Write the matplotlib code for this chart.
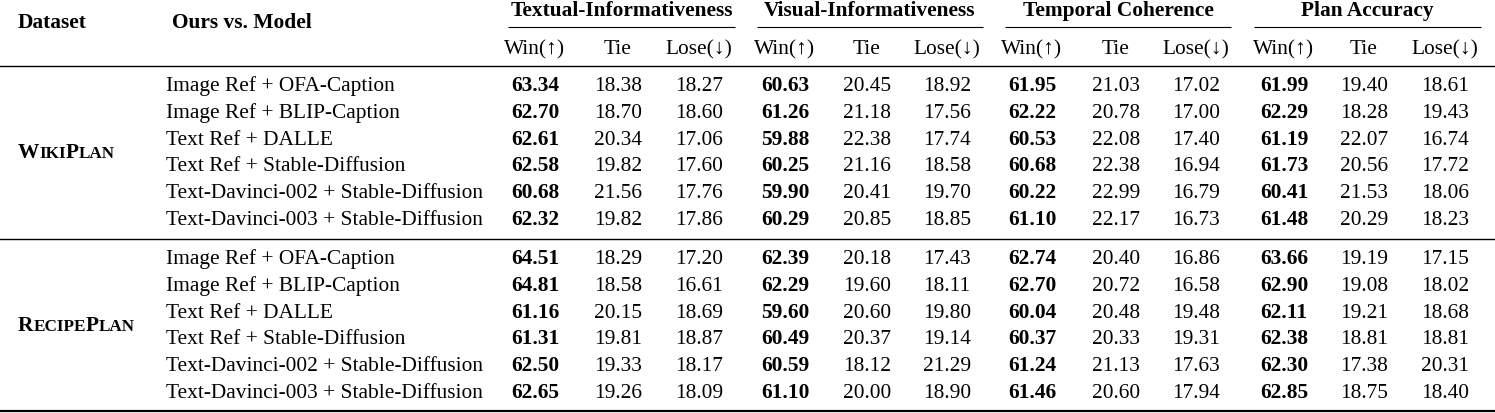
import matplotlib.pyplot as plt

plt.rcParams['font.family'] = ['Liberation Serif', 'DejaVu Serif']

models = [
    "Image Ref + OFA-Caption",
    "Image Ref + BLIP-Caption",
    "Text Ref + DALLE",
    "Text Ref + Stable-Diffusion",
    "Text-Davinci-002 + Stable-Diffusion",
    "Text-Davinci-003 + Stable-Diffusion",
]
metrics = ["Textual-Informativeness", "Visual-Informativeness",
           "Temporal Coherence", "Plan Accuracy"]
sub_cols = ["Win(\u2191)", "Tie", "Lose(\u2193)"]

# each row: win, tie, lose for textual / visual / temporal / plan
wiki_textual = [[63.34, 18.38, 18.27], [62.70, 18.70, 18.60], [62.61, 20.34, 17.06],
                [62.58, 19.82, 17.60], [60.68, 21.56, 17.76], [62.32, 19.82, 17.86]]
wiki_visual = [[60.63, 20.45, 18.92], [61.26, 21.18, 17.56], [59.88, 22.38, 17.74],
               [60.25, 21.16, 18.58], [59.90, 20.41, 19.70], [60.29, 20.85, 18.85]]
wiki_temporal = [[61.95, 21.03, 17.02], [62.22, 20.78, 17.00], [60.53, 22.08, 17.40],
                 [60.68, 22.38, 16.94], [60.22, 22.99, 16.79], [61.10, 22.17, 16.73]]
wiki_plan = [[61.99, 19.40, 18.61], [62.29, 18.28, 19.43], [61.19, 22.07, 16.74],
             [61.73, 20.56, 17.72], [60.41, 21.53, 18.06], [61.48, 20.29, 18.23]]

recipe_textual = [[64.51, 18.29, 17.20], [64.81, 18.58, 16.61], [61.16, 20.15, 18.69],
                  [61.31, 19.81, 18.87], [62.50, 19.33, 18.17], [62.65, 19.26, 18.09]]
recipe_visual = [[62.39, 20.18, 17.43], [62.29, 19.60, 18.11], [59.60, 20.60, 19.80],
                 [60.49, 20.37, 19.14], [60.59, 18.12, 21.29], [61.10, 20.00, 18.90]]
recipe_temporal = [[62.74, 20.40, 16.86], [62.70, 20.72, 16.58], [60.04, 20.48, 19.48],
                   [60.37, 20.33, 19.31], [61.24, 21.13, 17.63], [61.46, 20.60, 17.94]]
recipe_plan = [[63.66, 19.19, 17.15], [62.90, 19.08, 18.02], [62.11, 19.21, 18.68],
               [62.38, 18.81, 18.81], [62.30, 17.38, 20.31], [62.85, 18.75, 18.40]]

datasets = [
    (["W", "IKI", "P", "LAN"], [wiki_textual, wiki_visual, wiki_temporal, wiki_plan]),
    (["R", "ECIPE", "P", "LAN"], [recipe_textual, recipe_visual, recipe_temporal, recipe_plan]),
]

W, H = 1495, 413
fs = 15.4

fig = plt.figure(figsize=(W / 100, H / 100), dpi=100)
ax = fig.add_axes([0, 0, 1, 1])
ax.set_xlim(0, W)
ax.set_ylim(H, 0)
ax.axis('off')

# column layout (pixels); y values are baselines
col_x = [[535, 618, 699], [785, 867, 947], [1032, 1116, 1196], [1284, 1364, 1445]]
group_span = [(508, 735), (757, 983), (1005, 1231), (1254, 1481)]
row_y0 = [91, 264]
row_step = 26.8

# header
ax.text(18, 28, "Dataset", fontsize=fs, fontweight='bold', va='baseline', ha='left')
ax.text(172, 28, "Ours vs. Model", fontsize=fs, fontweight='bold', va='baseline', ha='left')
for g, name in enumerate(metrics):
    x0, x1 = group_span[g]
    ax.text((x0 + x1) / 2, 16, name, fontsize=fs, fontweight='bold', va='baseline', ha='center')
    ax.plot([x0, x1], [27, 27], color='black', lw=0.8, solid_capstyle='butt')
    for c, sub in enumerate(sub_cols):
        ax.text(col_x[g][c], 54, sub, fontsize=fs, va='baseline', ha='center')

# rules
ax.plot([0, W], [65.5, 65.5], color='black', lw=1.0)
ax.plot([0, W], [238.5, 238.5], color='black', lw=1.0)
ax.plot([0, W], [410.5, 410.5], color='black', lw=1.6)

renderer = fig.canvas.get_renderer()

for d, (label_parts, blocks) in enumerate(datasets):
    y0 = row_y0[d]
    for r, model in enumerate(models):
        y = y0 + r * row_step
        ax.text(166, y, model, fontsize=fs, va='baseline', ha='left')
        for g, block in enumerate(blocks):
            for c, val in enumerate(block[r]):
                ax.text(col_x[g][c], y, f"{val:.2f}", fontsize=fs, va='baseline', ha='center',
                        fontweight='bold' if c == 0 else 'normal')
    # small caps dataset name
    ymid = y0 + 2.5 * row_step
    x = 18
    for i, part in enumerate(label_parts):
        size = fs if i % 2 == 0 else fs * 0.8
        t = ax.text(x, ymid, part, fontsize=size, fontweight='bold', va='baseline', ha='left')
        bb = t.get_window_extent(renderer)
        x = bb.x1

fig.savefig("out.png", dpi=100)
